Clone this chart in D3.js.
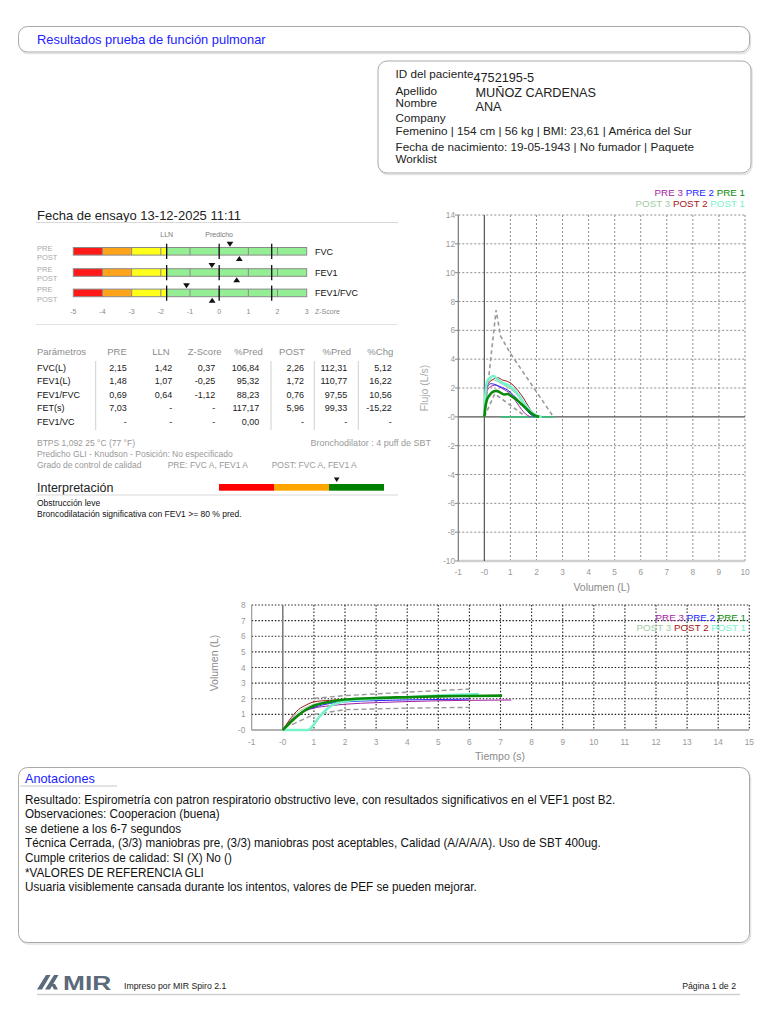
<!DOCTYPE html>
<html><head><meta charset="utf-8">
<script src="https://cdn.jsdelivr.net/npm/d3@7"></script>
<style>
body{margin:0;background:#fff}
svg{display:block}
text{font-family:"Liberation Sans",Arial,Helvetica,sans-serif}
</style>
</head><body>
<svg id="page" width="768" height="1024"></svg>
<script>
// ---------------- DATA ----------------
const reportTitle = "Resultados prueba de función pulmonar";
const patientLabels = ["ID del paciente","Apellido","Nombre","Company"];
const patientValues = ["4752195-5","MUÑOZ CARDENAS","ANA",""];
const patientLines = ["Femenino | 154 cm | 56 kg  | BMI: 23,61 | América del Sur",
  "Fecha de nacimiento: 19-05-1943 | No fumador | Paquete","Worklist"];
const testDate = "Fecha de ensayo 13-12-2025 11:11";

const zCategories = ["FVC","FEV1","FEV1/FVC"];
const zPre = [0.37,-0.25,-1.12];
const zPost = [0.69,0.60,-0.24];
const zTicks = [-5,-4,-3,-2,-1,0,1,2,3];
const zBandEdges = [-5,-4,-3,-1.8,3];
const zLimits = [-1.8,0,1.8];

const tableHeaders = ["Parámetros","PRE","LLN","Z-Score","%Pred","POST","%Pred","%Chg"];
const paramNames = ["FVC(L)","FEV1(L)","FEV1/FVC","FET(s)","FEV1/VC"];
const preValues   = ["2,15","1,48","0,69","7,03","-"];
const llnValues   = ["1,42","1,07","0,64","-","-"];
const zValues     = ["0,37","-0,25","-1,12","-","-"];
const prePred     = ["106,84","95,32","88,23","117,17","0,00"];
const postValues  = ["2,26","1,72","0,76","5,96","-"];
const postPred    = ["112,31","110,77","97,55","99,33","-"];
const changeValues= ["5,12","16,22","10,56","-15,22","-"];

const notes = ["BTPS 1,092 25 °C (77 °F)","Predicho GLI  - Knudson  - Posición: No especificado","Grado de control de calidad"];
const bronchodilator = "Bronchodilator : 4 puff de SBT";
const qualityPre = "PRE: FVC A, FEV1 A";
const qualityPost = "POST: FVC A, FEV1 A";
const interpBands = [0,1,2,3];
const interpMarker = 2.14;
const interpLines = ["Obstrucción leve","Broncodilatación significativa con FEV1 >= 80 % pred."];

const seriesNames = ["PRE 3","PRE 2","PRE 1","POST 3","POST 2","POST 1"];

// Flow-volume  [volume L, flow L/s]
const fvTicksX = [-1,0,1,2,3,4,5,6,7,8,9,10];
const fvTicksY = [14,12,10,8,6,4,2,0,-2,-4,-6,-8,-10];
const fvPredicted = [[0,0],[0.45,7.4],[0.62,5.6],[1.0,4.4],[2.65,0]];
const fvLower = [[0,0],[0.4,1.6],[1.6,0]];
const fvPre3 = [[0,0],[0.05,1.3],[0.15,1.95],[0.25,2.1],[0.4,2.2],[0.6,2.05],[0.8,1.85],[1.0,1.6],[1.2,1.1],[1.35,0.7],[1.5,0.35],[1.65,0.1],[1.8,0]];
const fvPre2 = [[0,0],[0.05,1.5],[0.12,2.1],[0.25,2.3],[0.4,2.25],[0.6,2.1],[0.8,1.95],[1.0,1.7],[1.2,1.35],[1.4,0.95],[1.6,0.5],[1.75,0.2],[1.9,0]];
const fvPre1 = [[0,0],[0.05,0.8],[0.1,1.2],[0.2,1.5],[0.3,1.7],[0.45,1.8],[0.6,1.7],[0.75,1.55],[0.9,1.58],[1.05,1.42],[1.2,1.25],[1.35,1.0],[1.5,0.75],[1.65,0.5],[1.8,0.25],[1.95,0.08],[2.1,0]];
const fvPre1Tail = [[0.6,0],[2.65,0]];
const fvPost3 = [[0,0],[0.05,1.7],[0.15,2.4],[0.3,2.6],[0.5,2.45],[0.7,2.25],[0.9,2.05],[1.1,1.8],[1.3,1.4],[1.5,0.9],[1.7,0.45],[1.9,0.12],[2.05,0]];
const fvPost2 = [[0,0],[0.05,1.6],[0.15,2.3],[0.3,2.55],[0.5,2.72],[0.7,2.55],[0.9,2.45],[1.1,2.2],[1.3,1.8],[1.5,1.3],[1.7,0.7],[1.85,0.3],[2.0,0.08],[2.1,0]];
const fvPost1 = [[0,0],[0.05,1.8],[0.12,2.5],[0.25,2.75],[0.35,2.85],[0.5,2.6],[0.7,2.35],[0.9,2.2],[1.1,1.95],[1.3,1.55],[1.5,1.0],[1.7,0.55],[1.9,0.2],[2.05,0.05],[2.2,0]];

// Volume-time [time s, volume L]
const vtTicksX = [-1,0,1,2,3,4,5,6,7,8,9,10,11,12,13,14,15];
const vtTicksY = [8,7,6,5,4,3,2,1,0];
const vtPredicted = [[1,2.03],[2,2.2],[4,2.42],[6,2.62]];
const vtLower = [[0.3,0.35],[1,1.0],[2,1.3],[4,1.4],[6,1.45]];
const vtPre3 = [[0,0],[0.25,0.6],[0.5,1.0],[0.75,1.25],[1,1.4],[1.5,1.55],[2,1.65],[3,1.75],[4,1.82],[5,1.87],[6,1.9],[7.35,1.92]];
const vtPre2 = [[0,0],[0.25,0.55],[0.5,1.0],[0.75,1.3],[1,1.45],[1.5,1.7],[2,1.8],[3,1.88],[4,1.93],[5,1.95],[6,1.98]];
const vtPre1 = [[0,0],[0.25,0.5],[0.5,0.95],[0.75,1.3],[1,1.55],[1.5,1.8],[2,1.95],[3,2.05],[4,2.1],[5,2.15],[6,2.18],[7.05,2.2]];
const vtPost3 = [[0,0],[0.25,0.65],[0.5,1.15],[0.75,1.45],[1,1.65],[1.5,1.85],[2,1.95],[3,2.05],[4,2.12],[5,2.18],[5.96,2.2]];
const vtPost2 = [[0,0],[0.2,0.6],[0.5,1.3],[0.75,1.6],[1,1.8],[1.5,1.9],[2,1.95],[3,2.05],[4,2.12],[5.3,2.22]];
const vtPost1 = [[0,0],[0.8,0],[1.2,0.9],[1.55,1.55],[1.8,1.75],[2,1.85],[3,2.0],[4,2.1],[5,2.2],[6.3,2.3]];

const annotationTitle = "Anotaciones";
const annotationLines = [
 "Resultado: Espirometría con patron respiratorio obstructivo leve, con resultados significativos en el VEF1 post B2.",
 "Observaciones: Cooperacion (buena)",
 "se detiene a los 6-7 segundos",
 "Técnica Cerrada, (3/3) maniobras pre, (3/3) maniobras post aceptables, Calidad (A/A/A/A). Uso de SBT 400ug.",
 "Cumple criterios de calidad: SI (X) No ()",
 "*VALORES DE REFERENCIA GLI",
 "Usuaria visiblemente cansada durante los intentos, valores de PEF se pueden mejorar."];
const footerLeft = "Impreso por MIR Spiro 2.1";
const footerRight = "Página 1 de 2";

// ---------------- STYLE ----------------
const seriesColors = ["#a31fa3","#2525ff","#0a8a0a","#9fcc9f","#a51515","#78f2cc"];
const seriesWidths = [1,1,2.6,1,1,2.6];

const svg = d3.select("#page");
function T(x,y,s,size,fill,anchor){
  const t = svg.append("text").attr("x",x).attr("y",y).text(s)
    .attr("font-size",size).attr("fill",fill||"#222");
  if(anchor) t.attr("text-anchor",anchor);
  return t;
}
// condensed text (horizontally compressed)
function N(x,y,s,size,fill,anchor,k){
  const t = T(0,0,s,size,fill,anchor);
  t.attr("transform",`translate(${x},${y}) scale(${k},1)`);
  return t;
}
function box(x,y,w,h){
  svg.append("rect").attr("x",x+1).attr("y",y+1.5).attr("width",w).attr("height",h).attr("rx",9)
    .attr("fill","none").attr("stroke","#e4e4e4").attr("stroke-width",1.5);
  svg.append("rect").attr("x",x).attr("y",y).attr("width",w).attr("height",h).attr("rx",9)
    .attr("fill","#fff").attr("stroke","#a9a9a9").attr("stroke-width",1);
}
function hline(x1,x2,y,c,w){svg.append("line").attr("x1",x1).attr("x2",x2).attr("y1",y).attr("y2",y).attr("stroke",c).attr("stroke-width",w||1);}

// Header
box(18.5,26.5,731,25.5);
T(37,43.5,reportTitle,12.9,"#2222ff");

// Patient box
box(378,61,373,112);
const labY=[78,94.5,106.5,122], valY=[81.5,96.5,111,126];
patientLabels.forEach((s,i)=>T(395.5,labY[i],s,11.7,"#222"));
patientValues.forEach((s,i)=>T(i===0?473.5:475.5,valY[i],s,12.7,"#222"));
const lineY=[135,150.5,162.5];
patientLines.forEach((s,i)=>T(395.5,lineY[i],s,11.7,"#222"));

// Test date
T(37,219.5,testDate,13,"#222");
hline(36,398,222.5,"#d8d8d8",1);

// ---------------- Z-score bars ----------------
const zx = d3.scaleLinear().domain([-5,3]).range([73.3,306.7]);
const zRowY = [251.3,272.5,292.9];
const bandColors = ["#ff1a1a","#ffa31a","#ffff1a","#94ee94"];
const zg = svg.append("g");
T(zx(-1.8),236.5,"LLN",7,"#777","middle");
T(zx(0),236.5,"Predicho",7,"#777","middle");
zCategories.forEach((cat,i)=>{
  const cy = zRowY[i];
  T(37,cy-0.8,"PRE",7.5,"#aaa");
  T(37,cy+8.6,"POST",7.5,"#aaa");
  zg.selectAll(null).data(d3.pairs(zBandEdges)).join("rect")
    .attr("x",d=>zx(d[0])).attr("width",d=>zx(d[1])-zx(d[0]))
    .attr("y",cy-3.8).attr("height",7.6)
    .attr("fill",(d,j)=>bandColors[j]);
  zg.append("rect").attr("x",zx(-5)).attr("width",zx(3)-zx(-5)).attr("y",cy-3.8).attr("height",7.6)
    .attr("fill","none").attr("stroke","#8a8a8a").attr("stroke-width",1);
  zg.selectAll(null).data(zTicks.slice(1,-1).concat([-1.8])).join("line")
    .attr("x1",d=>zx(d)).attr("x2",d=>zx(d)).attr("y1",cy-3.8).attr("y2",cy+3.8)
    .attr("stroke","#8a8a8a").attr("stroke-width",1);
  zg.selectAll(null).data(zLimits).join("line")
    .attr("x1",d=>zx(d)).attr("x2",d=>zx(d)).attr("y1",cy-7.5).attr("y2",cy+7.8)
    .attr("stroke","#111").attr("stroke-width",1.3);
  const px = zx(zPre[i]), qx = zx(zPost[i]);
  zg.append("path").attr("d",`M${px-3.4},${cy-9.6}L${px+3.4},${cy-9.6}L${px},${cy-4.6}Z`).attr("fill","#111");
  zg.append("path").attr("d",`M${qx-3.4},${cy+9.8}L${qx+3.4},${cy+9.8}L${qx},${cy+4.8}Z`).attr("fill","#111");
  T(315,cy+3.3,cat,9,"#111");
});
zTicks.forEach(t=>T(zx(t),314,String(t),7,"#888","middle"));
T(315,314,"Z-Score",7,"#888");
hline(36,398,324.5,"#e2e2e2",1);

// ---------------- Table ----------------
const headX = [37,117,161,204.7,248.5,292,336.7,380.3];
tableHeaders.forEach((h,i)=>T(headX[i],355.2,h,9.5,"#8c8c8c",i===0?"start":"middle"));
const colRight = [126.7,172.3,215.3,259.3,304,347.3,391.7];
const cols = [preValues,llnValues,zValues,prePred,postValues,postPred,changeValues];
paramNames.forEach((p,r)=>{
  const y = 367.3+13.6*r+3.3;
  T(37,y,p,9,"#111");
  cols.forEach((c,k)=>T(colRight[k],y,c[r],9,"#222","end"));
});
[95.7,271,314.3,358.3].forEach(x=>svg.append("line").attr("x1",x).attr("x2",x).attr("y1",361).attr("y2",430)
  .attr("stroke","#d0d0d0").attr("stroke-width",1));

T(37,445.5,notes[0],8.5,"#999");
T(431,445.5,bronchodilator,9,"#999","end");
T(37,457,notes[1],8.5,"#999");
T(37,467.5,notes[2],8.5,"#999");
T(167.7,467.5,qualityPre,8.5,"#999");
T(271.7,467.5,qualityPost,8.5,"#999");

// Interpretation
T(37,491.5,"Interpretación",12.5,"#222");
hline(36,398,495,"#d8d8d8",1);
const ix = d3.scaleLinear().domain([0,3]).range([219,384]);
const interpColors = ["#ff0000","#ffa500","#008000"];
svg.selectAll(null).data(d3.pairs(interpBands)).join("rect")
  .attr("x",d=>ix(d[0])).attr("width",d=>ix(d[1])-ix(d[0])).attr("y",484).attr("height",6.7)
  .attr("fill",(d,i)=>interpColors[i]);
{const mx = ix(interpMarker);
 svg.append("path").attr("d",`M${mx-2.8},${477.5}L${mx+2.8},${477.5}L${mx},${482}Z`).attr("fill","#111");}
T(37,506.3,interpLines[0],8.5,"#111");
T(37,517,interpLines[1],8.5,"#111");

// ---------------- Flow-volume chart ----------------
const fx = d3.scaleLinear().domain([-1,10]).range([458.3,745]);
const fy = d3.scaleLinear().domain([-10,14]).range([561,215]);
const fg = svg.append("g");
fvTicksX.filter(d=>d>0).forEach(d=>fg.append("line").attr("x1",fx(d)).attr("x2",fx(d)).attr("y1",fy(14)).attr("y2",fy(-10))
  .attr("stroke","#8c8c8c").attr("stroke-dasharray","2,2").attr("stroke-width",1));
fvTicksY.filter(d=>d!==0 && d!==-10).forEach(d=>fg.append("line").attr("x1",fx(-1)).attr("x2",fx(10)).attr("y1",fy(d)).attr("y2",fy(d))
  .attr("stroke","#8c8c8c").attr("stroke-dasharray","2,2").attr("stroke-width",1));
fg.append("line").attr("x1",fx(-1)).attr("x2",fx(10)).attr("y1",fy(-10)).attr("y2",fy(-10)).attr("stroke","#cfcfcf").attr("stroke-width",2.5);
fg.append("line").attr("x1",fx(-1)).attr("x2",fx(-1)).attr("y1",fy(14)).attr("y2",fy(-10)).attr("stroke","#777").attr("stroke-width",1.2);
fg.append("line").attr("x1",fx(0)).attr("x2",fx(0)).attr("y1",fy(14)).attr("y2",fy(-10)).attr("stroke","#555").attr("stroke-width",1.2);
fg.append("line").attr("x1",fx(-1)).attr("x2",fx(10)).attr("y1",fy(0)).attr("y2",fy(0)).attr("stroke","#555").attr("stroke-width",1.2);
const fmt0 = d=>d===0?"-0":String(d);
fvTicksY.forEach(d=>{T(455,fy(d)+3,fmt0(d),8.3,"#999","end");
  fg.append("line").attr("x1",455).attr("x2",fx(-1)).attr("y1",fy(d)).attr("y2",fy(d)).attr("stroke","#888");});
fvTicksX.forEach(d=>T(fx(d),575,fmt0(d),8.3,"#999","middle"));
T(601.7,591,"Volumen (L)",10.5,"#8a8a8a","middle");
T(0,0,"Flujo (L/s)",10.5,"#aaa","middle").attr("transform","translate(428,388) rotate(-90)");

const fLine = d3.line().x(d=>fx(d[0])).y(d=>fy(d[1]));
const fCurve = d3.line().x(d=>fx(d[0])).y(d=>fy(d[1])).curve(d3.curveMonotoneX);
[fvPredicted,fvLower].forEach(s=>fg.append("path").attr("d",fLine(s)).attr("fill","none")
  .attr("stroke","#9a9a9a").attr("stroke-width",1.6).attr("stroke-dasharray","4,3"));
const fvSeries = [fvPre3,fvPre2,fvPre1,fvPost3,fvPost2,fvPost1];
const drawOrder = [3,0,1,4,5,2];
fg.append("path").attr("d",fLine(fvPre1Tail)).attr("fill","none").attr("stroke","#3cb87a").attr("stroke-width",1.6);
drawOrder.forEach(i=>fg.append("path").attr("d",fCurve(fvSeries[i])).attr("fill","none")
  .attr("stroke",seriesColors[i]).attr("stroke-width",seriesWidths[i]).attr("stroke-linejoin","round"));

function legend(xEnd,y1,y2){
  const a = svg.append("text").attr("x",xEnd).attr("y",y1).attr("text-anchor","end").attr("font-size",9.8);
  [0,1,2].forEach(i=>a.append("tspan").attr("fill",seriesColors[i]).text((i?" ":"")+seriesNames[i]));
  const b = svg.append("text").attr("x",xEnd).attr("y",y2).attr("text-anchor","end").attr("font-size",9.8);
  [3,4,5].forEach(i=>b.append("tspan").attr("fill",seriesColors[i]).text((i>3?" ":"")+seriesNames[i]));
}
legend(745,196,206.5);

// ---------------- Volume-time chart ----------------
const tx = d3.scaleLinear().domain([-1,15]).range([251.7,749.3]);
const ty = d3.scaleLinear().domain([0,8]).range([730,605]);
const tg = svg.append("g");
vtTicksX.filter(d=>d>0).forEach(d=>tg.append("line").attr("x1",tx(d)).attr("x2",tx(d)).attr("y1",ty(8)).attr("y2",ty(0))
  .attr("stroke","#222").attr("stroke-dasharray","1.5,1.8").attr("stroke-width",1.1));
vtTicksY.filter(d=>d>0).forEach(d=>tg.append("line").attr("x1",tx(-1)).attr("x2",tx(15)).attr("y1",ty(d)).attr("y2",ty(d))
  .attr("stroke","#222").attr("stroke-dasharray","1.5,1.8").attr("stroke-width",1.1));
tg.append("line").attr("x1",tx(-1)).attr("x2",tx(15)).attr("y1",ty(0)).attr("y2",ty(0)).attr("stroke","#999").attr("stroke-width",1.5);
tg.append("line").attr("x1",tx(-1)).attr("x2",tx(-1)).attr("y1",ty(8)).attr("y2",ty(0)).attr("stroke","#999").attr("stroke-width",1.2);
tg.append("line").attr("x1",tx(0)).attr("x2",tx(0)).attr("y1",ty(8)).attr("y2",ty(0)).attr("stroke","#777").attr("stroke-width",1.5);
vtTicksY.forEach(d=>T(245.5,ty(d)+3,fmt0(d),8.3,"#999","end"));
vtTicksX.forEach(d=>T(tx(d),745,fmt0(d),8.3,"#999","middle"));
T(500,759.5,"Tiempo (s)",10.5,"#8a8a8a","middle");
T(0,0,"Volumen (L)",10.5,"#8a8a8a","middle").attr("transform","translate(218,663) rotate(-90)");
const tLine = d3.line().x(d=>tx(d[0])).y(d=>ty(d[1]));
const tCurve = d3.line().x(d=>tx(d[0])).y(d=>ty(d[1])).curve(d3.curveMonotoneX);
[vtPredicted,vtLower].forEach(s=>tg.append("path").attr("d",tLine(s)).attr("fill","none")
  .attr("stroke","#9a9a9a").attr("stroke-width",1.4).attr("stroke-dasharray","5,3"));
const vtSeries = [vtPre3,vtPre2,vtPre1,vtPost3,vtPost2,vtPost1];
drawOrder.forEach(i=>tg.append("path").attr("d",tCurve(vtSeries[i])).attr("fill","none")
  .attr("stroke",seriesColors[i]).attr("stroke-width",seriesWidths[i]));
legend(746,621,630.7);

// ---------------- Annotations ----------------
box(18.5,767.5,731,175);
T(25,783,annotationTitle,12.7,"#2222ff");
hline(20,117,786,"#c8c8c8",1);
annotationLines.forEach((s,i)=>N(25,803.5+14.6*i,s,12.6,"#111",null,0.93));

// ---------------- Footer ----------------
const logo = svg.append("g").attr("fill","#5c6b7c");
logo.append("path").attr("d","M37,989.5 L46,975 L50.5,975 L42,989.5Z M45,989.5 L54,975 L58.5,975 L50,989.5Z M51,984 L55,984 L58,989.5 L54,989.5Z");
svg.append("text").attr("transform","translate(63,989.5) scale(1.35,1)").text("MIR").attr("font-size",19.5)
  .attr("font-weight","bold").attr("fill","#5c6b7c");
N(124,988.5,footerLeft,9.4,"#222",null,0.93);
N(736,988.5,footerRight,9.4,"#222","end",0.93);
hline(37,740,994.5,"#d0d0d0",1.5);
</script>
</body></html>
